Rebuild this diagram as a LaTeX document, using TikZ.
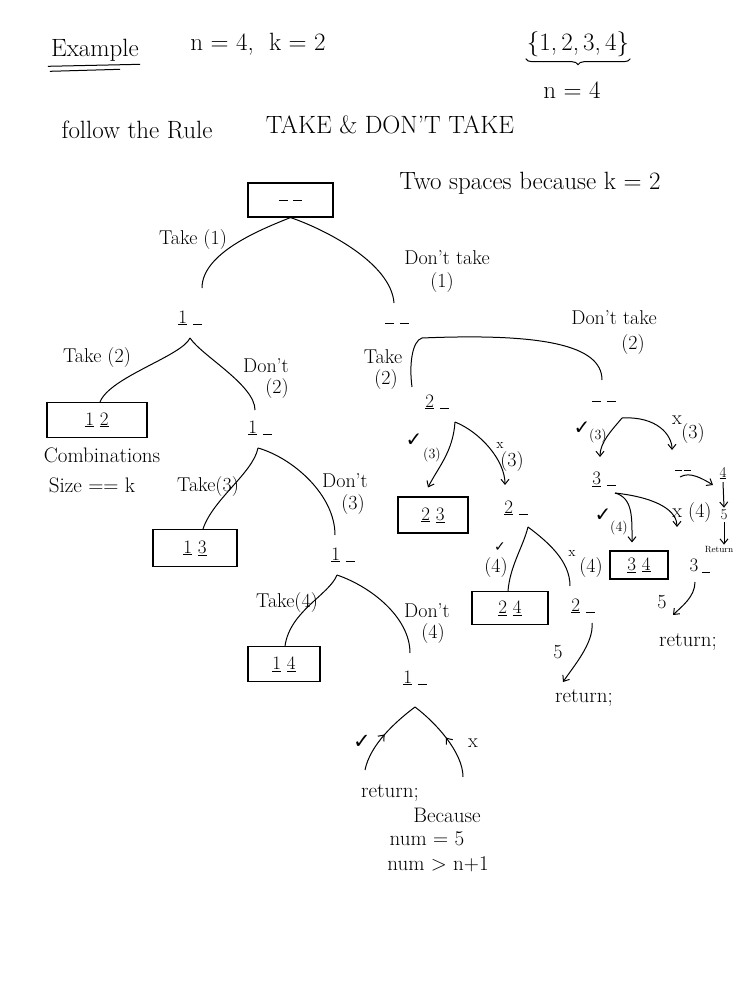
\documentclass[tikz,border=0pt]{standalone}
\usepackage{fontspec}
\newfontfamily\symf{DejaVu Sans}
\usetikzlibrary{arrows.meta,decorations.pathreplacing,decorations.markings}
\newcommand\bl{\underline{\hphantom{0}}}
\newcommand\un[1]{\underline{#1}}
\tikzset{
 hd/.style={font=\fontsize{25}{28}\selectfont, inner sep=1pt},
 lb/.style={font=\fontsize{20}{22}\selectfont, inner sep=1pt},
 lbb/.style={font=\fontsize{21}{24}\selectfont, inner sep=1pt},
 sm/.style={font=\fontsize{14}{16}\selectfont, inner sep=1pt},
 tn/.style={font=\fontsize{19}{22}\selectfont, inner sep=2pt},
 bx/.style={draw, line width=1.1pt, font=\fontsize{19}{22}\selectfont},
 edge/.style={line width=1pt},
 arr/.style={edge, -{Straight Barb[length=5pt,width=8pt]}},
 up/.style={edge, postaction={decorate}, decoration={markings, mark=at position 0.5 with {\arrow{Straight Barb[length=5pt,width=8pt]}}}},
}
\begin{document}
\begin{tikzpicture}[x=1pt,y=1pt]
\fill[white] (0,0) rectangle (734,-1000);
\useasboundingbox (0,0) rectangle (734,-1000);

% header
\node[hd] (ex) at (95,-50) {Example};
\draw[edge] ([xshift=-2pt,yshift=-4pt]ex.south west) -- ([yshift=-2pt]ex.south east);
\draw[edge] ([yshift=-9pt]ex.south west) -- ([xshift=-20pt,yshift=-7pt]ex.south east);
\node[hd] (nk) at (258,-44) {n = 4,\ \ k = 2};
\node[hd] (set) at (578,-44) {\{1,\,2,\,3,\,4\}};
\draw[edge, decorate, decoration={brace, mirror, amplitude=6pt}] ([yshift=-1pt]set.south west) -- ([yshift=-1pt]set.south east);
\node[hd] (n4) at (572,-90) {n = 4};
\node[hd] (rule) at (137,-130) {follow the Rule};
\node[hd] (tdt) at (390,-125) {TAKE \& DON'T TAKE};
\node[hd] (two) at (530,-183) {Two spaces because k = 2};

% root
\node[bx, minimum width=85pt, minimum height=34pt] (root) at (290.5,-200) {\bl\ \bl};

% tree nodes
\node[tn] (L1) at (190,-318) {\un{1}\ \bl};
\node[bx, minimum width=100pt, minimum height=35pt] (B12) at (97,-420) {\un{1}\ \un{2}};
\node[lbb] (comb) at (102,-455) {Combinations};
\node[lbb] (size) at (92,-485) {Size == k};
\node[tn] (L2) at (260,-428) {\un{1}\ \bl};
\node[bx, minimum width=84pt, minimum height=37pt] (B13) at (195,-548) {\un{1}\ \un{3}};
\node[tn] (L3) at (343,-555) {\un{1}\ \bl};
\node[bx, minimum width=72pt, minimum height=35pt] (B14) at (284,-664) {\un{1}\ \un{4}};
\node[tn] (L4) at (415,-678) {\un{1}\ \bl};
\node[tn] (R1) at (397,-323) {\bl\ \bl};
\node[tn] (R2) at (437,-402) {\un{2}\ \bl};
\node[tn] (R5) at (604,-401) {\bl\ \bl};

\draw[edge] (root.south) .. controls +(-30,-12) and +(0,35) .. ([shift={(12,30)}]L1.center);
\draw[edge] (root.south) .. controls +(35,-12) and +(-3,40) .. ([shift={(-3,20)}]R1.center);

\draw[edge] ([shift={(0,-20)}]L1.center) .. controls +(-8,-18) and +(10,25) .. ([xshift=3pt]B12.north);
\draw[edge] ([shift={(0,-20)}]L1.center) .. controls +(12,-18) and +(0,25) .. ([shift={(-5,18)}]L2.center);
\draw[edge] ([shift={(-2,-20)}]L2.center) .. controls +(-5,-25) and +(10,30) .. ([xshift=8pt]B13.north);
\draw[edge] ([shift={(-2,-20)}]L2.center) .. controls +(35,-10) and +(0,40) .. ([shift={(-8,20)}]L3.center);
\draw[edge] ([shift={(-6,-20)}]L3.center) .. controls +(-8,-20) and +(5,35) .. ([xshift=1pt]B14.north);
\draw[edge] ([shift={(-6,-20)}]L3.center) .. controls +(35,-12) and +(0,35) .. ([shift={(-5,25)}]L4.center);

\node[lb] (t1) at (193,-240) {Take (1)};
\node[lb] (d1) at (447,-258) {Don't take};
\node[lb] (d1b) at (442,-283) {(1)};
\node[lb] (t2) at (97,-358) {Take (2)};
\node[lb] (d2) at (266,-366) {Don't};
\node[lb] (d2b) at (277,-389) {(2)};
\node[lb] (t3) at (208,-487) {Take(3)};
\node[lb] (d3) at (345,-481) {Don't};
\node[lb] (d3b) at (353,-505) {(3)};
\node[lb] (t4) at (287,-603) {Take(4)};
\node[lb] (d4) at (427,-611) {Don't};
\node[lb] (d4b) at (433,-634) {(4)};

% bottom of left chain
\coordinate (L4b) at ([shift={(0,-29)}]L4.center);
\coordinate (lret) at (365,-770);
\coordinate (rret) at (463,-777);
\draw[up] (lret) .. controls +(5,25) and +(-20,-15) .. (L4b);
\draw[up] (rret) .. controls +(0,25) and +(20,-15) .. (L4b);
\node[lbb] (ck1) at (362,-742) {\symf ✓};
\node[lb] (x1) at (473,-743) {x};
\node[lbb] (ret0) at (390,-793) {return;};
\node[lbb] (bec) at (447,-815) {Because};
\node[lbb] (num5) at (427,-839) {num = 5};
\node[lbb] (numn) at (438,-864) {num > n+1};

% right side
\draw[edge] ([shift={(25,-15)}]R1.center) .. controls +(-10,-3) and +(-3,22) .. ([shift={(-25,15)}]R2.center);
\draw[edge] ([shift={(25,-15)}]R1.center) .. controls +(120,5) and +(0,35) .. ([shift={(-2,21)}]R5.center);
\node[lb] (t2r) at (383,-357) {Take};
\node[lb] (t2rb) at (386,-380) {(2)};
\node[lb] (d2r) at (614,-318) {Don't take};
\node[lb] (d2rb) at (633,-345) {(2)};

\node[bx, minimum width=70pt, minimum height=36pt] (B23) at (433,-515) {\un{2}\ \un{3}};
\node[tn] (R3) at (516,-508) {\un{2}\ \bl};
\draw[arr] ([shift={(18,-20)}]R2.center) .. controls +(-2,-30) and +(10,20) .. ([shift={(-5,9)}]B23.north);
\draw[arr] ([shift={(18,-20)}]R2.center) .. controls +(25,-10) and +(0,25) .. ([shift={(-11,23)}]R3.center);
\node[lb] (ck3) at (414,-440) {\symf ✓};
\node[sm] (ck3b) at (432,-455) {(3)};
\node[sm] (x3) at (500,-445) {x};
\node[lb] (x3b) at (512,-462) {(3)};

\node[bx, minimum width=76pt, minimum height=33pt] (B24) at (510,-608) {\un{2}\ \un{4}};
\node[tn] (R4) at (583,-606) {\un{2}\ \bl};
\draw[edge] ([shift={(12,-19)}]R3.center) .. controls +(-5,-20) and +(2,25) .. ([xshift=-2pt]B24.north);
\draw[edge] ([shift={(12,-19)}]R3.center) .. controls +(20,-15) and +(0,25) .. ([shift={(-13,20)}]R4.center);
\node[sm] (ck4) at (500,-547) {\symf ✓};
\node[lb] (ck4b) at (496,-568) {(4)};
\node[sm] (x4) at (572,-553) {x};
\node[lb] (x4b) at (591,-568) {(4)};

\coordinate (r4end) at (563,-682);
\draw[arr] ([shift={(9,-17)}]R4.center) .. controls +(2,-20) and +(10,15) .. (r4end);
\node[lb] (f1) at (558,-652) {5};
\node[lbb] (ret1) at (584,-698) {return;};

\node[tn] (R6) at (604,-479) {\un{3}\ \bl};
\node[tn, font=\fontsize{15}{17}\selectfont] (R7) at (683,-470) {\bl\,\bl};
\draw[arr] ([shift={(18,-17)}]R5.center) .. controls +(-10,-12) and +(0,15) .. ([shift={(-4,22)}]R6.center);
\draw[arr] ([shift={(18,-17)}]R5.center) .. controls +(35,2) and +(0,15) .. ([shift={(-11,20)}]R7.center);
\node[lb] (ck5) at (582,-428) {\symf ✓};
\node[sm] (ck5b) at (598,-436) {(3)};
\node[lb] (x5) at (677,-420) {x};
\node[lb] (x5b) at (693,-434) {(3)};

\node[tn, font=\fontsize{15}{17}\selectfont] (n4b) at (723,-473) {\un{4}};
\node[tn, font=\fontsize{15}{17}\selectfont] (n5b) at (724,-515) {5};
\node[sm, font=\fontsize{9}{11}\selectfont] (nret) at (719,-550) {Return};
\draw[arr] ([shift={(-3,-7)}]R7.center) .. controls +(10,6) and +(-10,6) .. ([shift={(-10,-12)}]n4b.center);
\draw[arr] ([yshift=-1pt]n4b.south) -- (n5b.north);
\draw[arr] (n5b.south) -- ([xshift=5pt,yshift=1pt]nret.north);

\node[bx, minimum width=58pt, minimum height=28pt] (B34) at (639,-565) {\un{3}\ \un{4}};
\node[tn] (R8) at (700,-566) {3\,\bl};
\draw[arr] ([shift={(11,-14)}]R6.center) .. controls +(18,-5) and +(0,25) .. ([shift={(-7,8)}]B34.north);
\draw[arr] ([shift={(11,-14)}]R6.center) .. controls +(45,-5) and +(0,15) .. ([shift={(-23,39)}]R8.center);
\node[lb] (ck6) at (603,-515) {\symf ✓};
\node[sm] (ck6b) at (619,-528) {(4)};
\node[lb] (x6) at (692,-513) {x (4)};

\coordinate (r8end) at (673,-615);
\draw[arr] ([shift={(-5,-16)}]R8.center) .. controls +(0,-15) and +(8,8) .. (r8end);
\node[lb] (f2) at (662,-602) {5};
\node[lbb] (ret2) at (688,-642) {return;};
\end{tikzpicture}
\end{document}
